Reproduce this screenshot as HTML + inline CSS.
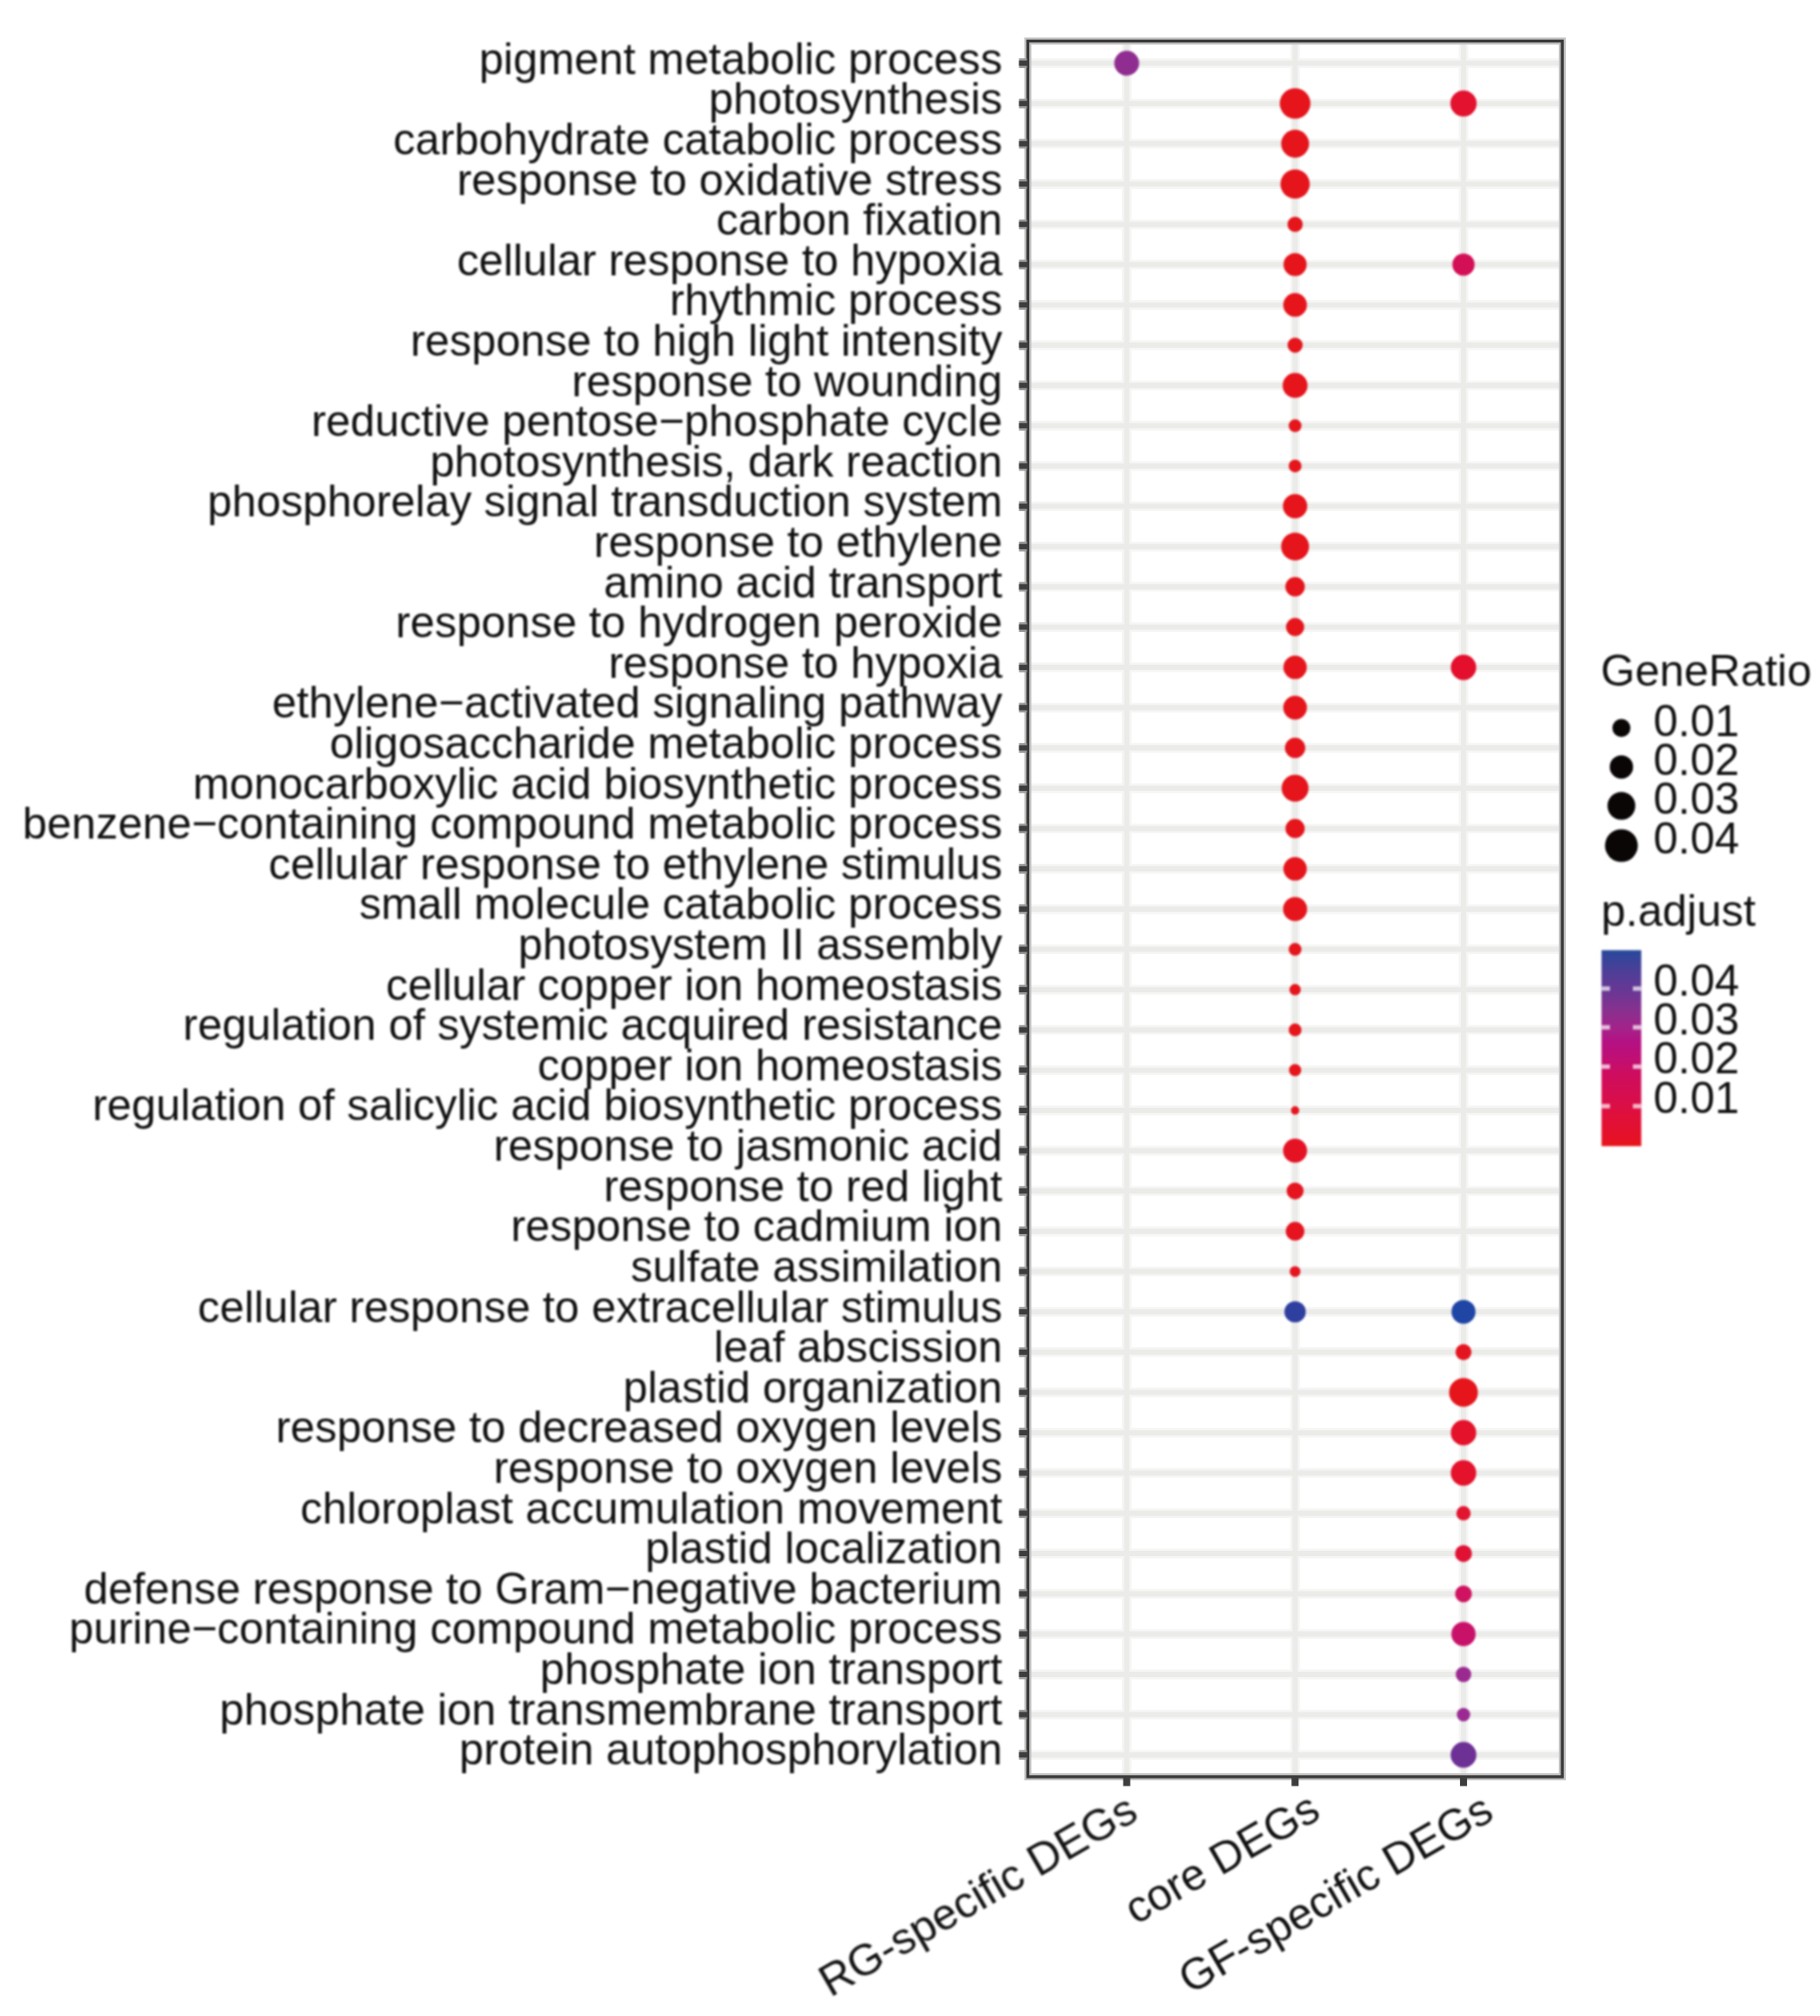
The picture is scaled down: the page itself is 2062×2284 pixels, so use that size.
<!DOCTYPE html>
<html lang="en"><head><meta charset="utf-8"><title>GO enrichment dot plot</title>
<style>
html,body{margin:0;padding:0;background:#fff}
body{width:2062px;height:2284px;overflow:hidden}
svg{display:block}
#points,#ylabels,#xlabels,#legend-size,#legend-colour{filter:blur(0.8px)}
text{font-family:"Liberation Sans",Arial,Helvetica,sans-serif;font-size:50px;fill:#111}
.yl{text-anchor:end;font-size:49.87px}
.xl{text-anchor:end}
</style></head><body>
<svg width="2062" height="2284" viewBox="0 0 2062 2284">
<rect width="2062" height="2284" fill="#fff"/>
<g id="grid">
<line x1="1164.5" x2="1770.0" y1="71.60" y2="71.60" stroke="#f6f6f5" stroke-width="11"/>
<line x1="1164.5" x2="1770.0" y1="117.23" y2="117.23" stroke="#f6f6f5" stroke-width="11"/>
<line x1="1164.5" x2="1770.0" y1="162.87" y2="162.87" stroke="#f6f6f5" stroke-width="11"/>
<line x1="1164.5" x2="1770.0" y1="208.50" y2="208.50" stroke="#f6f6f5" stroke-width="11"/>
<line x1="1164.5" x2="1770.0" y1="254.13" y2="254.13" stroke="#f6f6f5" stroke-width="11"/>
<line x1="1164.5" x2="1770.0" y1="299.77" y2="299.77" stroke="#f6f6f5" stroke-width="11"/>
<line x1="1164.5" x2="1770.0" y1="345.40" y2="345.40" stroke="#f6f6f5" stroke-width="11"/>
<line x1="1164.5" x2="1770.0" y1="391.03" y2="391.03" stroke="#f6f6f5" stroke-width="11"/>
<line x1="1164.5" x2="1770.0" y1="436.67" y2="436.67" stroke="#f6f6f5" stroke-width="11"/>
<line x1="1164.5" x2="1770.0" y1="482.30" y2="482.30" stroke="#f6f6f5" stroke-width="11"/>
<line x1="1164.5" x2="1770.0" y1="527.93" y2="527.93" stroke="#f6f6f5" stroke-width="11"/>
<line x1="1164.5" x2="1770.0" y1="573.57" y2="573.57" stroke="#f6f6f5" stroke-width="11"/>
<line x1="1164.5" x2="1770.0" y1="619.20" y2="619.20" stroke="#f6f6f5" stroke-width="11"/>
<line x1="1164.5" x2="1770.0" y1="664.83" y2="664.83" stroke="#f6f6f5" stroke-width="11"/>
<line x1="1164.5" x2="1770.0" y1="710.47" y2="710.47" stroke="#f6f6f5" stroke-width="11"/>
<line x1="1164.5" x2="1770.0" y1="756.10" y2="756.10" stroke="#f6f6f5" stroke-width="11"/>
<line x1="1164.5" x2="1770.0" y1="801.73" y2="801.73" stroke="#f6f6f5" stroke-width="11"/>
<line x1="1164.5" x2="1770.0" y1="847.37" y2="847.37" stroke="#f6f6f5" stroke-width="11"/>
<line x1="1164.5" x2="1770.0" y1="893.00" y2="893.00" stroke="#f6f6f5" stroke-width="11"/>
<line x1="1164.5" x2="1770.0" y1="938.63" y2="938.63" stroke="#f6f6f5" stroke-width="11"/>
<line x1="1164.5" x2="1770.0" y1="984.27" y2="984.27" stroke="#f6f6f5" stroke-width="11"/>
<line x1="1164.5" x2="1770.0" y1="1029.90" y2="1029.90" stroke="#f6f6f5" stroke-width="11"/>
<line x1="1164.5" x2="1770.0" y1="1075.53" y2="1075.53" stroke="#f6f6f5" stroke-width="11"/>
<line x1="1164.5" x2="1770.0" y1="1121.17" y2="1121.17" stroke="#f6f6f5" stroke-width="11"/>
<line x1="1164.5" x2="1770.0" y1="1166.80" y2="1166.80" stroke="#f6f6f5" stroke-width="11"/>
<line x1="1164.5" x2="1770.0" y1="1212.43" y2="1212.43" stroke="#f6f6f5" stroke-width="11"/>
<line x1="1164.5" x2="1770.0" y1="1258.07" y2="1258.07" stroke="#f6f6f5" stroke-width="11"/>
<line x1="1164.5" x2="1770.0" y1="1303.70" y2="1303.70" stroke="#f6f6f5" stroke-width="11"/>
<line x1="1164.5" x2="1770.0" y1="1349.33" y2="1349.33" stroke="#f6f6f5" stroke-width="11"/>
<line x1="1164.5" x2="1770.0" y1="1394.97" y2="1394.97" stroke="#f6f6f5" stroke-width="11"/>
<line x1="1164.5" x2="1770.0" y1="1440.60" y2="1440.60" stroke="#f6f6f5" stroke-width="11"/>
<line x1="1164.5" x2="1770.0" y1="1486.23" y2="1486.23" stroke="#f6f6f5" stroke-width="11"/>
<line x1="1164.5" x2="1770.0" y1="1531.87" y2="1531.87" stroke="#f6f6f5" stroke-width="11"/>
<line x1="1164.5" x2="1770.0" y1="1577.50" y2="1577.50" stroke="#f6f6f5" stroke-width="11"/>
<line x1="1164.5" x2="1770.0" y1="1623.13" y2="1623.13" stroke="#f6f6f5" stroke-width="11"/>
<line x1="1164.5" x2="1770.0" y1="1668.77" y2="1668.77" stroke="#f6f6f5" stroke-width="11"/>
<line x1="1164.5" x2="1770.0" y1="1714.40" y2="1714.40" stroke="#f6f6f5" stroke-width="11"/>
<line x1="1164.5" x2="1770.0" y1="1760.03" y2="1760.03" stroke="#f6f6f5" stroke-width="11"/>
<line x1="1164.5" x2="1770.0" y1="1805.67" y2="1805.67" stroke="#f6f6f5" stroke-width="11"/>
<line x1="1164.5" x2="1770.0" y1="1851.30" y2="1851.30" stroke="#f6f6f5" stroke-width="11"/>
<line x1="1164.5" x2="1770.0" y1="1896.93" y2="1896.93" stroke="#f6f6f5" stroke-width="11"/>
<line x1="1164.5" x2="1770.0" y1="1942.57" y2="1942.57" stroke="#f6f6f5" stroke-width="11"/>
<line x1="1164.5" x2="1770.0" y1="1988.20" y2="1988.20" stroke="#f6f6f5" stroke-width="11"/>
<line x1="1276.5" x2="1276.5" y1="46.5" y2="2013.0" stroke="#f6f6f5" stroke-width="11"/>
<line x1="1467.3" x2="1467.3" y1="46.5" y2="2013.0" stroke="#f6f6f5" stroke-width="11"/>
<line x1="1658.1" x2="1658.1" y1="46.5" y2="2013.0" stroke="#f6f6f5" stroke-width="11"/>
<line x1="1164.5" x2="1770.0" y1="71.60" y2="71.60" stroke="#ebebe9" stroke-width="6"/>
<line x1="1164.5" x2="1770.0" y1="117.23" y2="117.23" stroke="#ebebe9" stroke-width="6"/>
<line x1="1164.5" x2="1770.0" y1="162.87" y2="162.87" stroke="#ebebe9" stroke-width="6"/>
<line x1="1164.5" x2="1770.0" y1="208.50" y2="208.50" stroke="#ebebe9" stroke-width="6"/>
<line x1="1164.5" x2="1770.0" y1="254.13" y2="254.13" stroke="#ebebe9" stroke-width="6"/>
<line x1="1164.5" x2="1770.0" y1="299.77" y2="299.77" stroke="#ebebe9" stroke-width="6"/>
<line x1="1164.5" x2="1770.0" y1="345.40" y2="345.40" stroke="#ebebe9" stroke-width="6"/>
<line x1="1164.5" x2="1770.0" y1="391.03" y2="391.03" stroke="#ebebe9" stroke-width="6"/>
<line x1="1164.5" x2="1770.0" y1="436.67" y2="436.67" stroke="#ebebe9" stroke-width="6"/>
<line x1="1164.5" x2="1770.0" y1="482.30" y2="482.30" stroke="#ebebe9" stroke-width="6"/>
<line x1="1164.5" x2="1770.0" y1="527.93" y2="527.93" stroke="#ebebe9" stroke-width="6"/>
<line x1="1164.5" x2="1770.0" y1="573.57" y2="573.57" stroke="#ebebe9" stroke-width="6"/>
<line x1="1164.5" x2="1770.0" y1="619.20" y2="619.20" stroke="#ebebe9" stroke-width="6"/>
<line x1="1164.5" x2="1770.0" y1="664.83" y2="664.83" stroke="#ebebe9" stroke-width="6"/>
<line x1="1164.5" x2="1770.0" y1="710.47" y2="710.47" stroke="#ebebe9" stroke-width="6"/>
<line x1="1164.5" x2="1770.0" y1="756.10" y2="756.10" stroke="#ebebe9" stroke-width="6"/>
<line x1="1164.5" x2="1770.0" y1="801.73" y2="801.73" stroke="#ebebe9" stroke-width="6"/>
<line x1="1164.5" x2="1770.0" y1="847.37" y2="847.37" stroke="#ebebe9" stroke-width="6"/>
<line x1="1164.5" x2="1770.0" y1="893.00" y2="893.00" stroke="#ebebe9" stroke-width="6"/>
<line x1="1164.5" x2="1770.0" y1="938.63" y2="938.63" stroke="#ebebe9" stroke-width="6"/>
<line x1="1164.5" x2="1770.0" y1="984.27" y2="984.27" stroke="#ebebe9" stroke-width="6"/>
<line x1="1164.5" x2="1770.0" y1="1029.90" y2="1029.90" stroke="#ebebe9" stroke-width="6"/>
<line x1="1164.5" x2="1770.0" y1="1075.53" y2="1075.53" stroke="#ebebe9" stroke-width="6"/>
<line x1="1164.5" x2="1770.0" y1="1121.17" y2="1121.17" stroke="#ebebe9" stroke-width="6"/>
<line x1="1164.5" x2="1770.0" y1="1166.80" y2="1166.80" stroke="#ebebe9" stroke-width="6"/>
<line x1="1164.5" x2="1770.0" y1="1212.43" y2="1212.43" stroke="#ebebe9" stroke-width="6"/>
<line x1="1164.5" x2="1770.0" y1="1258.07" y2="1258.07" stroke="#ebebe9" stroke-width="6"/>
<line x1="1164.5" x2="1770.0" y1="1303.70" y2="1303.70" stroke="#ebebe9" stroke-width="6"/>
<line x1="1164.5" x2="1770.0" y1="1349.33" y2="1349.33" stroke="#ebebe9" stroke-width="6"/>
<line x1="1164.5" x2="1770.0" y1="1394.97" y2="1394.97" stroke="#ebebe9" stroke-width="6"/>
<line x1="1164.5" x2="1770.0" y1="1440.60" y2="1440.60" stroke="#ebebe9" stroke-width="6"/>
<line x1="1164.5" x2="1770.0" y1="1486.23" y2="1486.23" stroke="#ebebe9" stroke-width="6"/>
<line x1="1164.5" x2="1770.0" y1="1531.87" y2="1531.87" stroke="#ebebe9" stroke-width="6"/>
<line x1="1164.5" x2="1770.0" y1="1577.50" y2="1577.50" stroke="#ebebe9" stroke-width="6"/>
<line x1="1164.5" x2="1770.0" y1="1623.13" y2="1623.13" stroke="#ebebe9" stroke-width="6"/>
<line x1="1164.5" x2="1770.0" y1="1668.77" y2="1668.77" stroke="#ebebe9" stroke-width="6"/>
<line x1="1164.5" x2="1770.0" y1="1714.40" y2="1714.40" stroke="#ebebe9" stroke-width="6"/>
<line x1="1164.5" x2="1770.0" y1="1760.03" y2="1760.03" stroke="#ebebe9" stroke-width="6"/>
<line x1="1164.5" x2="1770.0" y1="1805.67" y2="1805.67" stroke="#ebebe9" stroke-width="6"/>
<line x1="1164.5" x2="1770.0" y1="1851.30" y2="1851.30" stroke="#ebebe9" stroke-width="6"/>
<line x1="1164.5" x2="1770.0" y1="1896.93" y2="1896.93" stroke="#ebebe9" stroke-width="6"/>
<line x1="1164.5" x2="1770.0" y1="1942.57" y2="1942.57" stroke="#ebebe9" stroke-width="6"/>
<line x1="1164.5" x2="1770.0" y1="1988.20" y2="1988.20" stroke="#ebebe9" stroke-width="6"/>
<line x1="1276.5" x2="1276.5" y1="46.5" y2="2013.0" stroke="#ebebe9" stroke-width="6"/>
<line x1="1467.3" x2="1467.3" y1="46.5" y2="2013.0" stroke="#ebebe9" stroke-width="6"/>
<line x1="1658.1" x2="1658.1" y1="46.5" y2="2013.0" stroke="#ebebe9" stroke-width="6"/>
</g>
<g id="points">
<circle cx="1276.5" cy="71.60" r="14.10" fill="#8f2e90"/>
<circle cx="1467.3" cy="117.23" r="17.35" fill="#e5151b"/>
<circle cx="1658.1" cy="117.23" r="14.85" fill="#e3122e"/>
<circle cx="1467.3" cy="162.87" r="15.80" fill="#e5151b"/>
<circle cx="1467.3" cy="208.50" r="16.60" fill="#e5151b"/>
<circle cx="1467.3" cy="254.13" r="8.60" fill="#e5151b"/>
<circle cx="1467.3" cy="299.77" r="13.10" fill="#e5151b"/>
<circle cx="1658.1" cy="299.77" r="12.60" fill="#d30f56"/>
<circle cx="1467.3" cy="345.40" r="13.40" fill="#e5151b"/>
<circle cx="1467.3" cy="391.03" r="8.60" fill="#e5151b"/>
<circle cx="1467.3" cy="436.67" r="14.10" fill="#e5151b"/>
<circle cx="1467.3" cy="482.30" r="7.25" fill="#e5151b"/>
<circle cx="1467.3" cy="527.93" r="7.25" fill="#e5151b"/>
<circle cx="1467.3" cy="573.57" r="13.75" fill="#e5151b"/>
<circle cx="1467.3" cy="619.20" r="15.80" fill="#e5151b"/>
<circle cx="1467.3" cy="664.83" r="11.00" fill="#e5151b"/>
<circle cx="1467.3" cy="710.47" r="10.35" fill="#e5151b"/>
<circle cx="1467.3" cy="756.10" r="13.25" fill="#e5151b"/>
<circle cx="1658.1" cy="756.10" r="14.40" fill="#e30f2c"/>
<circle cx="1467.3" cy="801.73" r="13.40" fill="#e5151b"/>
<circle cx="1467.3" cy="847.37" r="11.50" fill="#e5151b"/>
<circle cx="1467.3" cy="893.00" r="15.25" fill="#e5151b"/>
<circle cx="1467.3" cy="938.63" r="10.85" fill="#e5151b"/>
<circle cx="1467.3" cy="984.27" r="13.25" fill="#e5151b"/>
<circle cx="1467.3" cy="1029.90" r="13.60" fill="#e5151b"/>
<circle cx="1467.3" cy="1075.53" r="7.25" fill="#e5151b"/>
<circle cx="1467.3" cy="1121.17" r="6.40" fill="#e5151b"/>
<circle cx="1467.3" cy="1166.80" r="7.25" fill="#e5151b"/>
<circle cx="1467.3" cy="1212.43" r="6.90" fill="#e5151b"/>
<circle cx="1467.3" cy="1258.07" r="4.70" fill="#e5151b"/>
<circle cx="1467.3" cy="1303.70" r="13.60" fill="#e51224"/>
<circle cx="1467.3" cy="1349.33" r="9.60" fill="#e5141f"/>
<circle cx="1467.3" cy="1394.97" r="10.60" fill="#e5141f"/>
<circle cx="1467.3" cy="1440.60" r="6.10" fill="#e5141f"/>
<circle cx="1467.3" cy="1486.23" r="12.10" fill="#2f3f9f"/>
<circle cx="1658.1" cy="1486.23" r="13.60" fill="#1f46a5"/>
<circle cx="1658.1" cy="1531.87" r="9.10" fill="#e5151f"/>
<circle cx="1658.1" cy="1577.50" r="16.30" fill="#e5151b"/>
<circle cx="1658.1" cy="1623.13" r="14.40" fill="#e4122a"/>
<circle cx="1658.1" cy="1668.77" r="14.40" fill="#e4122a"/>
<circle cx="1658.1" cy="1714.40" r="8.10" fill="#e2142f"/>
<circle cx="1658.1" cy="1760.03" r="9.60" fill="#e01133"/>
<circle cx="1658.1" cy="1805.67" r="9.50" fill="#cf1360"/>
<circle cx="1658.1" cy="1851.30" r="13.75" fill="#c8126a"/>
<circle cx="1658.1" cy="1896.93" r="8.80" fill="#9a2a8f"/>
<circle cx="1658.1" cy="1942.57" r="7.60" fill="#9a2a92"/>
<circle cx="1658.1" cy="1988.20" r="14.60" fill="#6d3095"/>
</g>
<rect x="1164.5" y="46.5" width="605.5" height="1966.5" fill="none" stroke="#c6c4c3" stroke-width="8"/>
<rect x="1164.5" y="46.5" width="605.5" height="1966.5" fill="none" stroke="#3a3a3a" stroke-width="3.4"/>
<g id="ticks" stroke="#3d3d3d">
<line x1="1154.5" x2="1163.5" y1="71.60" y2="71.60" stroke="#9a9a9a" stroke-width="11"/>
<line x1="1154.5" x2="1164.5" y1="71.60" y2="71.60" stroke-width="6"/>
<line x1="1154.5" x2="1163.5" y1="117.23" y2="117.23" stroke="#9a9a9a" stroke-width="11"/>
<line x1="1154.5" x2="1164.5" y1="117.23" y2="117.23" stroke-width="6"/>
<line x1="1154.5" x2="1163.5" y1="162.87" y2="162.87" stroke="#9a9a9a" stroke-width="11"/>
<line x1="1154.5" x2="1164.5" y1="162.87" y2="162.87" stroke-width="6"/>
<line x1="1154.5" x2="1163.5" y1="208.50" y2="208.50" stroke="#9a9a9a" stroke-width="11"/>
<line x1="1154.5" x2="1164.5" y1="208.50" y2="208.50" stroke-width="6"/>
<line x1="1154.5" x2="1163.5" y1="254.13" y2="254.13" stroke="#9a9a9a" stroke-width="11"/>
<line x1="1154.5" x2="1164.5" y1="254.13" y2="254.13" stroke-width="6"/>
<line x1="1154.5" x2="1163.5" y1="299.77" y2="299.77" stroke="#9a9a9a" stroke-width="11"/>
<line x1="1154.5" x2="1164.5" y1="299.77" y2="299.77" stroke-width="6"/>
<line x1="1154.5" x2="1163.5" y1="345.40" y2="345.40" stroke="#9a9a9a" stroke-width="11"/>
<line x1="1154.5" x2="1164.5" y1="345.40" y2="345.40" stroke-width="6"/>
<line x1="1154.5" x2="1163.5" y1="391.03" y2="391.03" stroke="#9a9a9a" stroke-width="11"/>
<line x1="1154.5" x2="1164.5" y1="391.03" y2="391.03" stroke-width="6"/>
<line x1="1154.5" x2="1163.5" y1="436.67" y2="436.67" stroke="#9a9a9a" stroke-width="11"/>
<line x1="1154.5" x2="1164.5" y1="436.67" y2="436.67" stroke-width="6"/>
<line x1="1154.5" x2="1163.5" y1="482.30" y2="482.30" stroke="#9a9a9a" stroke-width="11"/>
<line x1="1154.5" x2="1164.5" y1="482.30" y2="482.30" stroke-width="6"/>
<line x1="1154.5" x2="1163.5" y1="527.93" y2="527.93" stroke="#9a9a9a" stroke-width="11"/>
<line x1="1154.5" x2="1164.5" y1="527.93" y2="527.93" stroke-width="6"/>
<line x1="1154.5" x2="1163.5" y1="573.57" y2="573.57" stroke="#9a9a9a" stroke-width="11"/>
<line x1="1154.5" x2="1164.5" y1="573.57" y2="573.57" stroke-width="6"/>
<line x1="1154.5" x2="1163.5" y1="619.20" y2="619.20" stroke="#9a9a9a" stroke-width="11"/>
<line x1="1154.5" x2="1164.5" y1="619.20" y2="619.20" stroke-width="6"/>
<line x1="1154.5" x2="1163.5" y1="664.83" y2="664.83" stroke="#9a9a9a" stroke-width="11"/>
<line x1="1154.5" x2="1164.5" y1="664.83" y2="664.83" stroke-width="6"/>
<line x1="1154.5" x2="1163.5" y1="710.47" y2="710.47" stroke="#9a9a9a" stroke-width="11"/>
<line x1="1154.5" x2="1164.5" y1="710.47" y2="710.47" stroke-width="6"/>
<line x1="1154.5" x2="1163.5" y1="756.10" y2="756.10" stroke="#9a9a9a" stroke-width="11"/>
<line x1="1154.5" x2="1164.5" y1="756.10" y2="756.10" stroke-width="6"/>
<line x1="1154.5" x2="1163.5" y1="801.73" y2="801.73" stroke="#9a9a9a" stroke-width="11"/>
<line x1="1154.5" x2="1164.5" y1="801.73" y2="801.73" stroke-width="6"/>
<line x1="1154.5" x2="1163.5" y1="847.37" y2="847.37" stroke="#9a9a9a" stroke-width="11"/>
<line x1="1154.5" x2="1164.5" y1="847.37" y2="847.37" stroke-width="6"/>
<line x1="1154.5" x2="1163.5" y1="893.00" y2="893.00" stroke="#9a9a9a" stroke-width="11"/>
<line x1="1154.5" x2="1164.5" y1="893.00" y2="893.00" stroke-width="6"/>
<line x1="1154.5" x2="1163.5" y1="938.63" y2="938.63" stroke="#9a9a9a" stroke-width="11"/>
<line x1="1154.5" x2="1164.5" y1="938.63" y2="938.63" stroke-width="6"/>
<line x1="1154.5" x2="1163.5" y1="984.27" y2="984.27" stroke="#9a9a9a" stroke-width="11"/>
<line x1="1154.5" x2="1164.5" y1="984.27" y2="984.27" stroke-width="6"/>
<line x1="1154.5" x2="1163.5" y1="1029.90" y2="1029.90" stroke="#9a9a9a" stroke-width="11"/>
<line x1="1154.5" x2="1164.5" y1="1029.90" y2="1029.90" stroke-width="6"/>
<line x1="1154.5" x2="1163.5" y1="1075.53" y2="1075.53" stroke="#9a9a9a" stroke-width="11"/>
<line x1="1154.5" x2="1164.5" y1="1075.53" y2="1075.53" stroke-width="6"/>
<line x1="1154.5" x2="1163.5" y1="1121.17" y2="1121.17" stroke="#9a9a9a" stroke-width="11"/>
<line x1="1154.5" x2="1164.5" y1="1121.17" y2="1121.17" stroke-width="6"/>
<line x1="1154.5" x2="1163.5" y1="1166.80" y2="1166.80" stroke="#9a9a9a" stroke-width="11"/>
<line x1="1154.5" x2="1164.5" y1="1166.80" y2="1166.80" stroke-width="6"/>
<line x1="1154.5" x2="1163.5" y1="1212.43" y2="1212.43" stroke="#9a9a9a" stroke-width="11"/>
<line x1="1154.5" x2="1164.5" y1="1212.43" y2="1212.43" stroke-width="6"/>
<line x1="1154.5" x2="1163.5" y1="1258.07" y2="1258.07" stroke="#9a9a9a" stroke-width="11"/>
<line x1="1154.5" x2="1164.5" y1="1258.07" y2="1258.07" stroke-width="6"/>
<line x1="1154.5" x2="1163.5" y1="1303.70" y2="1303.70" stroke="#9a9a9a" stroke-width="11"/>
<line x1="1154.5" x2="1164.5" y1="1303.70" y2="1303.70" stroke-width="6"/>
<line x1="1154.5" x2="1163.5" y1="1349.33" y2="1349.33" stroke="#9a9a9a" stroke-width="11"/>
<line x1="1154.5" x2="1164.5" y1="1349.33" y2="1349.33" stroke-width="6"/>
<line x1="1154.5" x2="1163.5" y1="1394.97" y2="1394.97" stroke="#9a9a9a" stroke-width="11"/>
<line x1="1154.5" x2="1164.5" y1="1394.97" y2="1394.97" stroke-width="6"/>
<line x1="1154.5" x2="1163.5" y1="1440.60" y2="1440.60" stroke="#9a9a9a" stroke-width="11"/>
<line x1="1154.5" x2="1164.5" y1="1440.60" y2="1440.60" stroke-width="6"/>
<line x1="1154.5" x2="1163.5" y1="1486.23" y2="1486.23" stroke="#9a9a9a" stroke-width="11"/>
<line x1="1154.5" x2="1164.5" y1="1486.23" y2="1486.23" stroke-width="6"/>
<line x1="1154.5" x2="1163.5" y1="1531.87" y2="1531.87" stroke="#9a9a9a" stroke-width="11"/>
<line x1="1154.5" x2="1164.5" y1="1531.87" y2="1531.87" stroke-width="6"/>
<line x1="1154.5" x2="1163.5" y1="1577.50" y2="1577.50" stroke="#9a9a9a" stroke-width="11"/>
<line x1="1154.5" x2="1164.5" y1="1577.50" y2="1577.50" stroke-width="6"/>
<line x1="1154.5" x2="1163.5" y1="1623.13" y2="1623.13" stroke="#9a9a9a" stroke-width="11"/>
<line x1="1154.5" x2="1164.5" y1="1623.13" y2="1623.13" stroke-width="6"/>
<line x1="1154.5" x2="1163.5" y1="1668.77" y2="1668.77" stroke="#9a9a9a" stroke-width="11"/>
<line x1="1154.5" x2="1164.5" y1="1668.77" y2="1668.77" stroke-width="6"/>
<line x1="1154.5" x2="1163.5" y1="1714.40" y2="1714.40" stroke="#9a9a9a" stroke-width="11"/>
<line x1="1154.5" x2="1164.5" y1="1714.40" y2="1714.40" stroke-width="6"/>
<line x1="1154.5" x2="1163.5" y1="1760.03" y2="1760.03" stroke="#9a9a9a" stroke-width="11"/>
<line x1="1154.5" x2="1164.5" y1="1760.03" y2="1760.03" stroke-width="6"/>
<line x1="1154.5" x2="1163.5" y1="1805.67" y2="1805.67" stroke="#9a9a9a" stroke-width="11"/>
<line x1="1154.5" x2="1164.5" y1="1805.67" y2="1805.67" stroke-width="6"/>
<line x1="1154.5" x2="1163.5" y1="1851.30" y2="1851.30" stroke="#9a9a9a" stroke-width="11"/>
<line x1="1154.5" x2="1164.5" y1="1851.30" y2="1851.30" stroke-width="6"/>
<line x1="1154.5" x2="1163.5" y1="1896.93" y2="1896.93" stroke="#9a9a9a" stroke-width="11"/>
<line x1="1154.5" x2="1164.5" y1="1896.93" y2="1896.93" stroke-width="6"/>
<line x1="1154.5" x2="1163.5" y1="1942.57" y2="1942.57" stroke="#9a9a9a" stroke-width="11"/>
<line x1="1154.5" x2="1164.5" y1="1942.57" y2="1942.57" stroke-width="6"/>
<line x1="1154.5" x2="1163.5" y1="1988.20" y2="1988.20" stroke="#9a9a9a" stroke-width="11"/>
<line x1="1154.5" x2="1164.5" y1="1988.20" y2="1988.20" stroke-width="6"/>
<line x1="1276.5" x2="1276.5" y1="2013.0" y2="2023.5" stroke-width="8"/>
<line x1="1467.3" x2="1467.3" y1="2013.0" y2="2023.5" stroke-width="8"/>
<line x1="1658.1" x2="1658.1" y1="2013.0" y2="2023.5" stroke-width="8"/>
</g>
<g id="ylabels">
<text class="yl" x="1135.7" y="83.70">pigment metabolic process</text>
<text class="yl" x="1135.7" y="129.31">photosynthesis</text>
<text class="yl" x="1135.7" y="174.91">carbohydrate catabolic process</text>
<text class="yl" x="1135.7" y="220.52">response to oxidative stress</text>
<text class="yl" x="1135.7" y="266.13">carbon fixation</text>
<text class="yl" x="1135.7" y="311.74">cellular response to hypoxia</text>
<text class="yl" x="1135.7" y="357.34">rhythmic process</text>
<text class="yl" x="1135.7" y="402.95">response to high light intensity</text>
<text class="yl" x="1135.7" y="448.56">response to wounding</text>
<text class="yl" x="1135.7" y="494.17">reductive pentose−phosphate cycle</text>
<text class="yl" x="1135.7" y="539.77">photosynthesis, dark reaction</text>
<text class="yl" x="1135.7" y="585.38">phosphorelay signal transduction system</text>
<text class="yl" x="1135.7" y="630.99">response to ethylene</text>
<text class="yl" x="1135.7" y="676.60">amino acid transport</text>
<text class="yl" x="1135.7" y="722.20">response to hydrogen peroxide</text>
<text class="yl" x="1135.7" y="767.81">response to hypoxia</text>
<text class="yl" x="1135.7" y="813.42">ethylene−activated signaling pathway</text>
<text class="yl" x="1135.7" y="859.02">oligosaccharide metabolic process</text>
<text class="yl" x="1135.7" y="904.63">monocarboxylic acid biosynthetic process</text>
<text class="yl" x="1135.7" y="950.24">benzene−containing compound metabolic process</text>
<text class="yl" x="1135.7" y="995.85">cellular response to ethylene stimulus</text>
<text class="yl" x="1135.7" y="1041.45">small molecule catabolic process</text>
<text class="yl" x="1135.7" y="1087.06">photosystem II assembly</text>
<text class="yl" x="1135.7" y="1132.67">cellular copper ion homeostasis</text>
<text class="yl" x="1135.7" y="1178.28">regulation of systemic acquired resistance</text>
<text class="yl" x="1135.7" y="1223.88">copper ion homeostasis</text>
<text class="yl" x="1135.7" y="1269.49">regulation of salicylic acid biosynthetic process</text>
<text class="yl" x="1135.7" y="1315.10">response to jasmonic acid</text>
<text class="yl" x="1135.7" y="1360.71">response to red light</text>
<text class="yl" x="1135.7" y="1406.31">response to cadmium ion</text>
<text class="yl" x="1135.7" y="1451.92">sulfate assimilation</text>
<text class="yl" x="1135.7" y="1497.53">cellular response to extracellular stimulus</text>
<text class="yl" x="1135.7" y="1543.13">leaf abscission</text>
<text class="yl" x="1135.7" y="1588.74">plastid organization</text>
<text class="yl" x="1135.7" y="1634.35">response to decreased oxygen levels</text>
<text class="yl" x="1135.7" y="1679.96">response to oxygen levels</text>
<text class="yl" x="1135.7" y="1725.56">chloroplast accumulation movement</text>
<text class="yl" x="1135.7" y="1771.17">plastid localization</text>
<text class="yl" x="1135.7" y="1816.78">defense response to Gram−negative bacterium</text>
<text class="yl" x="1135.7" y="1862.39">purine−containing compound metabolic process</text>
<text class="yl" x="1135.7" y="1907.99">phosphate ion transport</text>
<text class="yl" x="1135.7" y="1953.60">phosphate ion transmembrane transport</text>
<text class="yl" x="1135.7" y="1999.21">protein autophosphorylation</text>
</g>
<g id="xlabels">
<text class="xl" transform="translate(1292.0 2060.5) rotate(-30)" x="0" y="0">RG-specific DEGs</text>
<text class="xl" transform="translate(1498.5 2058.8) rotate(-30)" x="0" y="0">core DEGs</text>
<text class="xl" transform="translate(1694.6 2059.9) rotate(-30)" x="0" y="0">GF-specific DEGs</text>
</g>
<g id="legend-size">
<text x="1813.5" y="777">GeneRatio</text>
<circle cx="1837" cy="824.7" r="10.25" fill="#0a0606"/>
<text x="1873.2" y="834.0">0.01</text>
<circle cx="1837" cy="868.9" r="13.25" fill="#0a0606"/>
<text x="1873.2" y="877.5">0.02</text>
<circle cx="1837" cy="913.0" r="15.75" fill="#0a0606"/>
<text x="1873.2" y="921.6">0.03</text>
<circle cx="1837" cy="958.0" r="18.60" fill="#0a0606"/>
<text x="1873.2" y="966.5">0.04</text>
</g>
<defs><linearGradient id="cb" x1="0" y1="0" x2="0" y2="1">
<stop offset="0.00" stop-color="#27499b"/>
<stop offset="0.10" stop-color="#4b3f98"/>
<stop offset="0.20" stop-color="#663895"/>
<stop offset="0.30" stop-color="#86318f"/>
<stop offset="0.40" stop-color="#a4238a"/>
<stop offset="0.47" stop-color="#b51083"/>
<stop offset="0.55" stop-color="#c00f74"/>
<stop offset="0.65" stop-color="#d00d5c"/>
<stop offset="0.75" stop-color="#d70e4e"/>
<stop offset="0.85" stop-color="#e0103a"/>
<stop offset="0.95" stop-color="#e5112a"/>
<stop offset="1.00" stop-color="#e8141a"/>
</linearGradient></defs>
<g id="legend-colour">
<text x="1814" y="1049.2">p.adjust</text>
<rect x="1814.5" y="1076.5" width="45" height="222" fill="url(#cb)"/>
<rect x="1814.5" y="1117.5" width="9.5" height="5" fill="#fff" fill-opacity="0.7"/>
<rect x="1850" y="1117.5" width="9.5" height="5" fill="#fff" fill-opacity="0.7"/>
<text x="1873.2" y="1128.4">0.04</text>
<rect x="1814.5" y="1161.4" width="9.5" height="5" fill="#fff" fill-opacity="0.7"/>
<rect x="1850" y="1161.4" width="9.5" height="5" fill="#fff" fill-opacity="0.7"/>
<text x="1873.2" y="1171.8">0.03</text>
<rect x="1814.5" y="1205.9" width="9.5" height="5" fill="#fff" fill-opacity="0.7"/>
<rect x="1850" y="1205.9" width="9.5" height="5" fill="#fff" fill-opacity="0.7"/>
<text x="1873.2" y="1215.8">0.02</text>
<rect x="1814.5" y="1250.7" width="9.5" height="5" fill="#fff" fill-opacity="0.7"/>
<rect x="1850" y="1250.7" width="9.5" height="5" fill="#fff" fill-opacity="0.7"/>
<text x="1873.2" y="1260.5">0.01</text>
</g>
</svg></body></html>
